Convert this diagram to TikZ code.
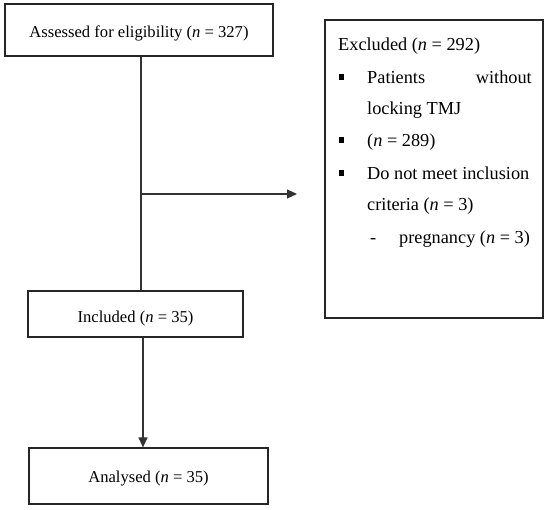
\documentclass[tikz,border=0pt]{standalone}
\usepackage{fontspec}
\setmainfont{Liberation Serif}
\usetikzlibrary{arrows.meta}
\newcommand{\lowr}[2]{\raisebox{-#1}[\height][\depth]{#2}}
\begin{document}
\begin{tikzpicture}[x=1pt,y=1pt,
  box/.style={draw=black!85, line width=1.2pt, minimum width=#1, inner sep=0pt, font=\fontsize{16.6}{19}\selectfont},
  etxt/.style={anchor=base west, inner sep=0pt, font=\fontsize{18.3}{21}\selectfont},
  conn/.style={draw=black!80, line width=1.2pt},
  tip/.style={-{Triangle[length=10pt,width=9pt]}}]
\useasboundingbox (0,0) rectangle (550,-510);
\node[box=268pt, minimum height=52pt] (top) at (139,-30) {\lowr{3.5pt}{Assessed for eligibility (\textit{n} = 327)}};
\node[box=215pt, minimum height=46pt] (inc) at (135.5,-314) {\lowr{5pt}{Included (\textit{n} = 35)}};
\node[box=239pt, minimum height=56pt] (ana) at (148.5,-476) {\lowr{3pt}{Analysed (\textit{n} = 35)}};
\node[draw=black!85, line width=1.2pt, minimum width=218pt, minimum height=298pt, inner sep=0pt] (exc) at (434,-169) {};
\coordinate (vx) at (141,0);
\coordinate (ax) at (143,0);
\coordinate (hs) at (141,-194);
\coordinate (he) at (297,-194);
\draw[conn] (top.south -| vx) -- (inc.north -| vx);
\draw[conn, tip] (hs) -- (he);
\draw[conn, tip] (inc.south -| ax) -- (ana.north -| ax);
% excluded text
\node[etxt] (e1) at (338,-51) {Excluded (\textit{n} = 292)};
\node[etxt] (b1) at (339,-83) {\raisebox{3pt}{\rule{5pt}{6pt}}};
\node[etxt] (e2) at (367,-84) {Patients};
\node[etxt, anchor=base east] (e2b) at (532,-84) {without};
\node[etxt] (e3) at (367,-115) {locking TMJ};
\node[etxt] (b2) at (339,-146) {\raisebox{3pt}{\rule{5pt}{6pt}}};
\node[etxt] (e4) at (367,-147) {(\textit{n} = 289)};
\node[etxt] (b3) at (339,-179) {\raisebox{3pt}{\rule{5pt}{6pt}}};
\node[etxt] (e5) at (367,-180) {Do not meet inclusion};
\node[etxt] (e6) at (367,-211) {criteria (\textit{n} = 3)};
\node[etxt] (d1) at (370,-244) {-};
\node[etxt] (e7) at (399,-244) {pregnancy (\textit{n} = 3)};
\end{tikzpicture}
\end{document}
